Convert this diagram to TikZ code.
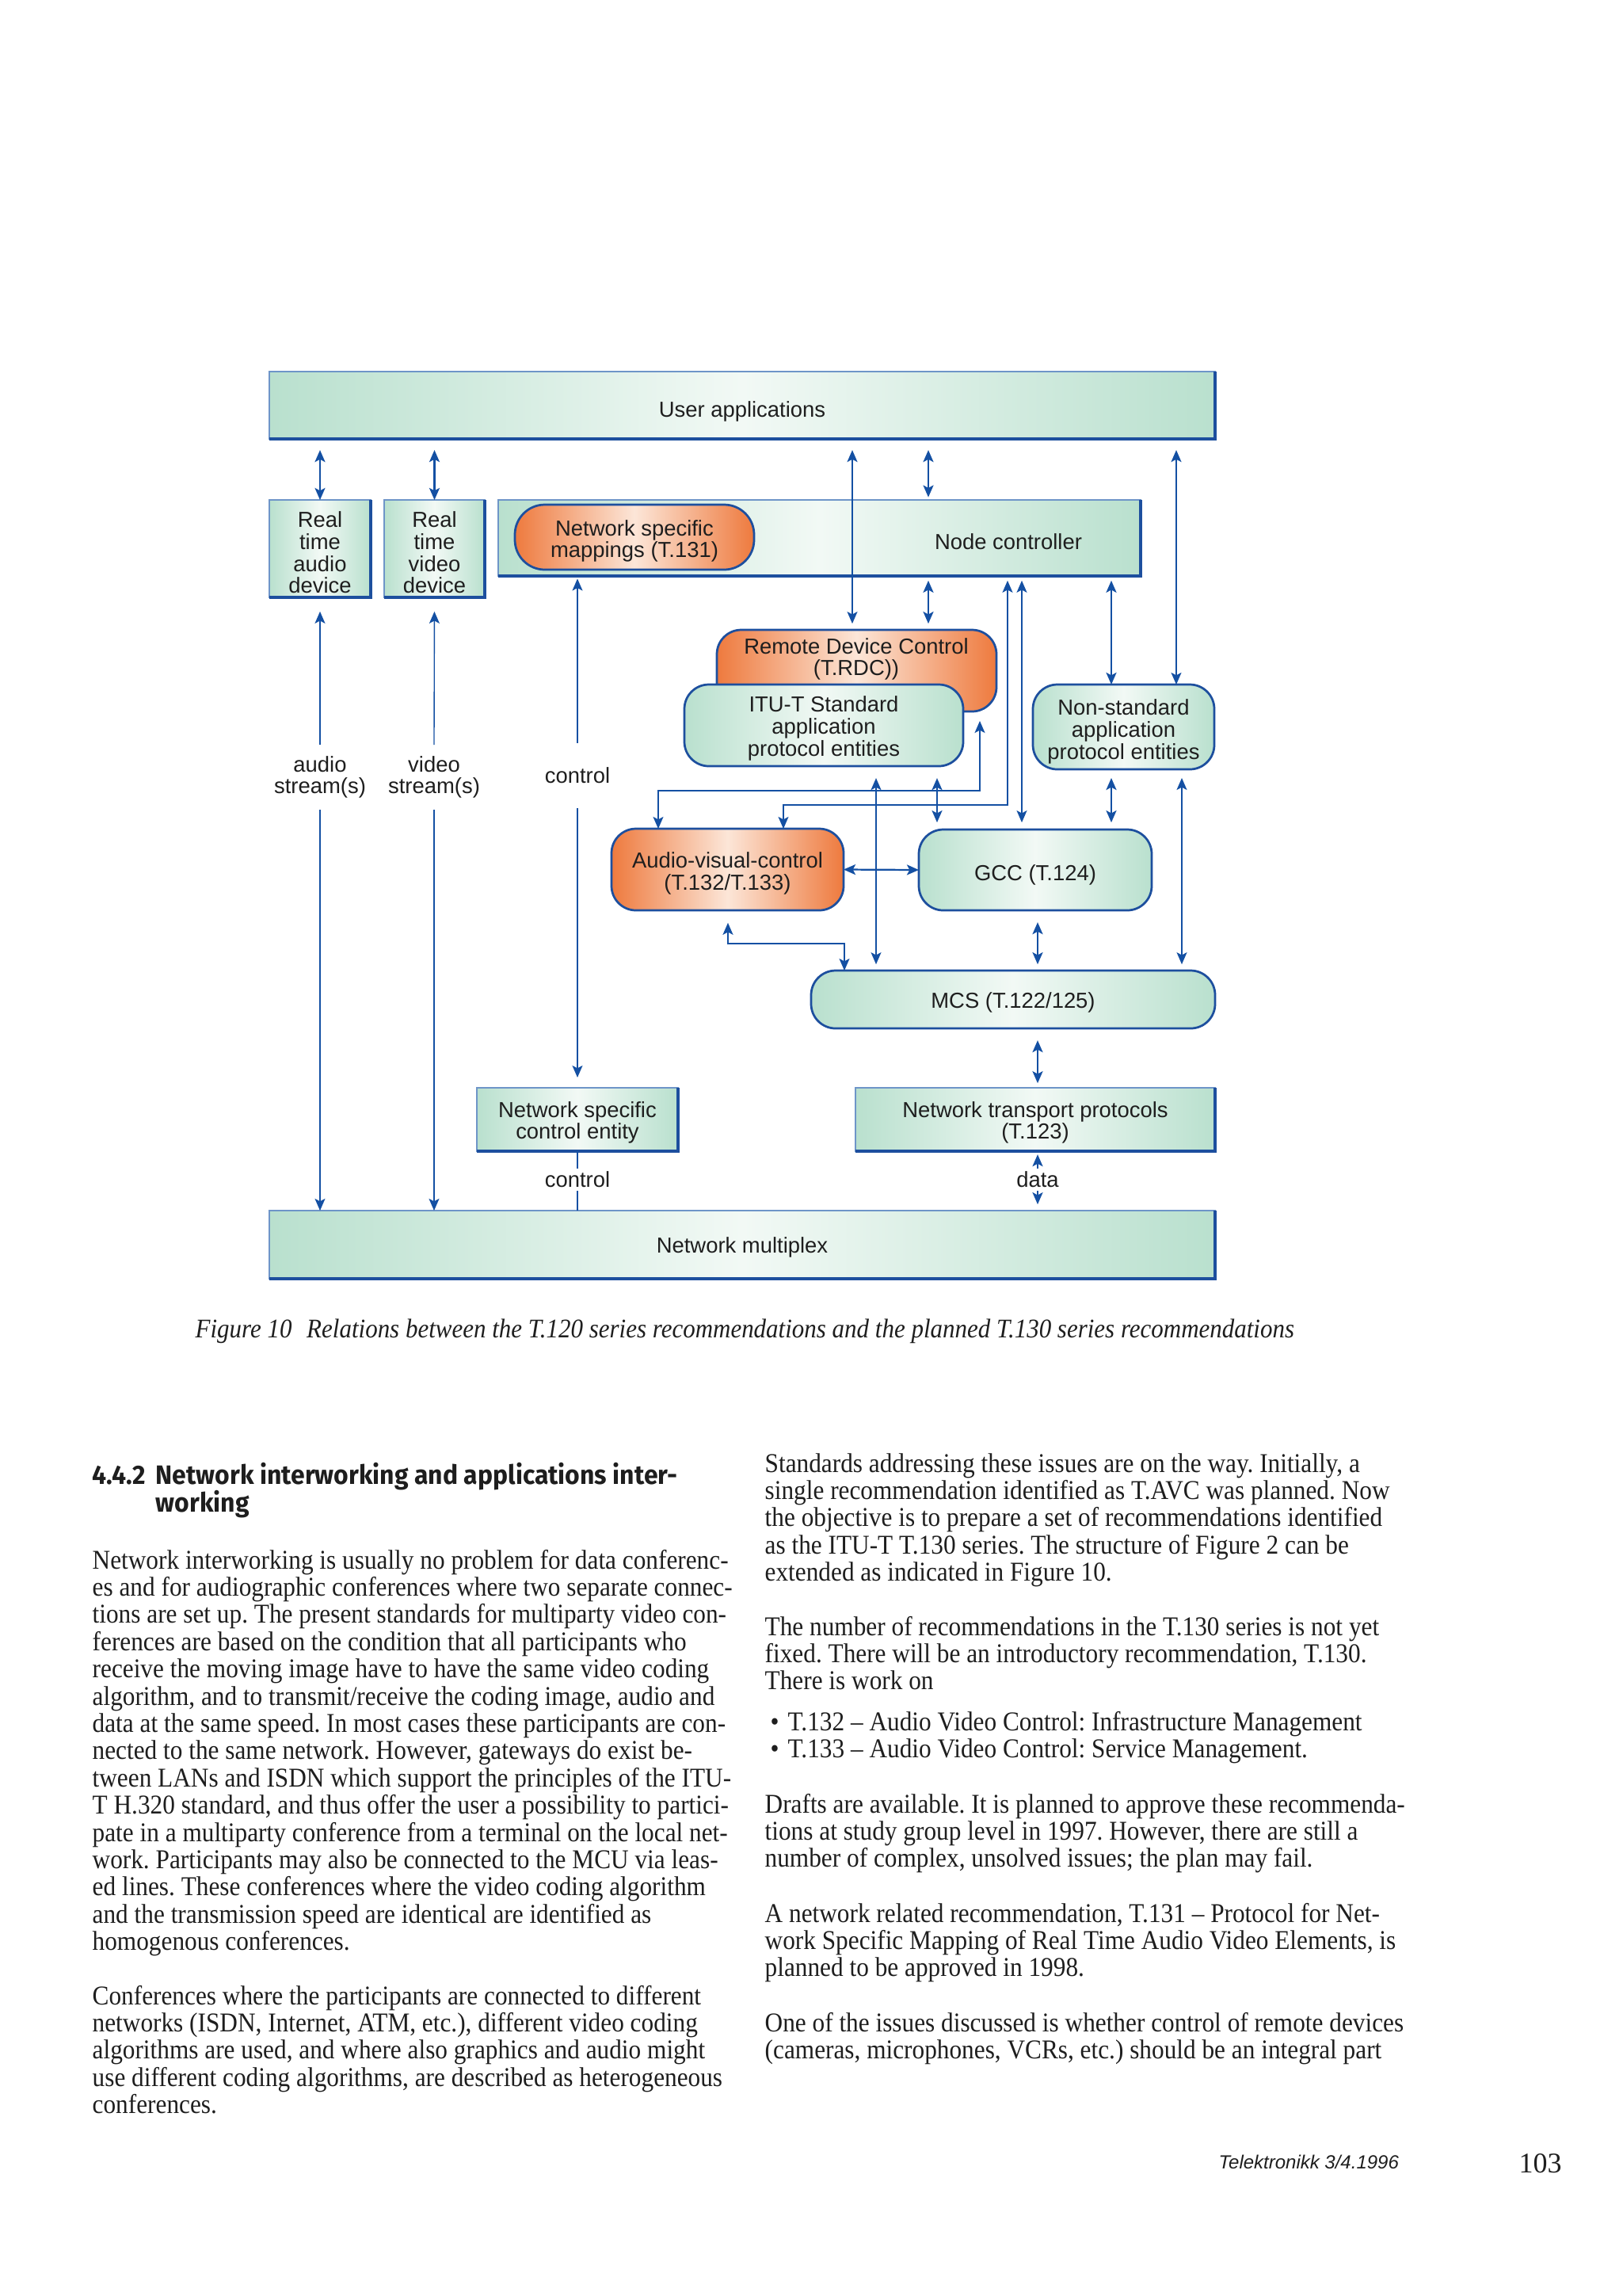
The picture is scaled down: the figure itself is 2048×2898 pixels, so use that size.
\documentclass[tikz,border=0pt]{standalone}
\usepackage{fontspec}
\setmainfont{Liberation Serif}[FakeStretch=0.913]
\newfontfamily\dfont{Liberation Sans}
\newfontfamily\hfont{Fira Sans}[FakeStretch=0.95]
\newfontfamily\pnfont{Liberation Serif}
\usetikzlibrary{arrows.meta,fit,calc}
\definecolor{mint}{HTML}{B9E0CE}
\definecolor{mintl}{HTML}{F2F9F5}
\definecolor{orng}{HTML}{EE7A3E}
\definecolor{peach}{HTML}{FCE6D8}
\definecolor{bord}{HTML}{1D4F9E}
\definecolor{bordl}{HTML}{6E95C8}
\definecolor{arr}{HTML}{1450A3}
\definecolor{ink}{HTML}{1E1E1E}
\def\pxu{0.29067pt}
\frenchspacing
\tikzset{
  ah/.tip={Stealth[length=4.4pt,width=3.8pt,inset=1pt]},
  dtxt/.style={font=\dfont\fontsize{8}{8.1}\selectfont, text=ink, align=center, inner sep=0pt},
  box/.style={inner sep=0pt, outer sep=0pt, draw=bordl, line width=0.45pt,
    left color=mint, right color=mint, middle color=mintl},
  rbox/.style={box, draw=bord, line width=0.8pt, rounded corners=9pt},
  obox/.style={rbox, left color=orng, right color=orng, middle color=peach},
  edge/.style={draw=bord, line width=0.9pt},
  thk/.style={draw=arr, line width=0.65pt},
  thn/.style={draw=arr, line width=0.4pt},
  lab/.style={dtxt, outer sep=0pt, minimum height=82*\pxu},
  slab/.style={dtxt, outer sep=0pt, minimum height=28*\pxu},
  bodyline/.style={anchor=base west, inner sep=0pt, text=ink, font=\fontsize{10}{10}\selectfont},
  headline/.style={anchor=base west, inner sep=0pt, text=ink, font=\hfont\bfseries\fontsize{9.8}{9.8}\selectfont},
}
\begin{document}
\begin{tikzpicture}[x=0.010254cm, y=-0.010254cm]
\useasboundingbox[fill=white] (0,0) rectangle (2048,2898);

% ---------- boxes ----------
\node[box, fit={(340,469) (1534,554)}] (ua) {};
\node[box, fit={(340,631) (468,754)}] (aud) {};
\node[box, fit={(485,631) (612,754)}] (vid) {};
\node[box, fit={(629,631) (1440,727)}] (nc) {};
\node[obox, rounded corners=11pt, fit={(650,637) (952,719)}] (t131) {};
\node[obox, fit={(905,795) (1258,898)}] (rdc) {};
\node[rbox, fit={(864,864) (1216,967)}] (itu) {};
\node[rbox, fit={(1304,864) (1533,971)}] (nstd) {};
\node[obox, fit={(772,1046) (1065,1149)}] (avc) {};
\node[rbox, fit={(1160,1047) (1454,1149)}] (gcc) {};
\node[rbox, fit={(1024,1225) (1534,1298)}] (mcs) {};
\node[box, fit={(602,1373) (856,1453)}] (nsce) {};
\node[box, fit={(1080,1373) (1534,1453)}] (ntp) {};
\node[box, fit={(340,1528) (1534,1614)}] (nm) {};

% darker bottom/right edges of the square boxes
\foreach \b in {ua,aud,vid,nc,nsce,ntp,nm}
  \draw[edge] (\b.south west) -- (\b.south east) -- (\b.north east);

% ---------- box texts ----------
\node[dtxt] (uatext) at ([yshift=-8*\pxu]ua.center) {User applications};
\node[dtxt] (audtext) at ([yshift=-5*\pxu]aud.center) {Real\\time\\audio\\device};
\node[dtxt] (vidtext) at ([yshift=-5*\pxu]vid.center) {Real\\time\\video\\device};
\node[dtxt] (nctext) at (1273,684) {Node controller};
\node[dtxt] (t131text) at ([yshift=-5*\pxu]t131.center) {Network specific\\mappings (T.131)};
\node[dtxt] (rdctext) at (1081,832) {Remote Device Control\\(T.RDC))};
\node[dtxt] (itutext) at ([yshift=-4*\pxu]itu.center) {ITU-T Standard\\application\\protocol entities};
\node[dtxt] (nstdtext) at ([yshift=-6*\pxu]nstd.center) {Non-standard\\application\\protocol entities};
\node[dtxt] (avctext) at ([yshift=-5*\pxu]avc.center) {Audio-visual-control\\(T.132/T.133)};
\node[dtxt] (gcctext) at ([yshift=-6*\pxu]gcc.center) {GCC (T.124)};
\node[dtxt] (mcstext) at ([yshift=-4*\pxu]mcs.center) {MCS (T.122/125)};
\node[dtxt] (nscetext) at ([yshift=-4*\pxu]nsce.center) {Network specific\\control entity};
\node[dtxt] (ntptext) at ([yshift=-4*\pxu]ntp.center) {Network transport protocols\\(T.123)};
\node[dtxt] (nmtext) at ([yshift=-3*\pxu]nm.center) {Network multiplex};

% ---------- labels on long lines ----------
\node[lab] (laud) at (404,981) {audio\\stream(s)};
\node[lab] (lvid) at (548,981) {video\\stream(s)};
\node[lab] (lctl) at (729,979) {control};
\node[slab] (lctl2) at (729,1489) {control};
\node[slab] (ldata) at (1310,1489) {data};

% ---------- column coordinates ----------
\coordinate (c1076) at (1076,0);
\coordinate (c1172) at (1172,0);
\coordinate (c1485) at (1485,0);
\coordinate (c1403) at (1403,0);
\coordinate (c1290) at (1290,0);
\coordinate (c1106) at (1106,0);
\coordinate (c1183) at (1183,0);
\coordinate (c1492) at (1492,0);
\coordinate (c1310) at (1310,0);
\coordinate (k8a) at (1272,1016);
\coordinate (k8b) at (989,1016);
\coordinate (k11a) at (1237,998);
\coordinate (k11b) at (831,998);
\coordinate (k17a) at (919,1191);
\coordinate (k17b) at (1066,1191);

% ---------- connectors ----------
\draw[thk,ah-ah,shorten <=4.1pt] (ua.south -| aud.north) -- (aud.north);
\draw[thk,ah-ah,shorten <=4.1pt] (ua.south -| vid.north) -- (vid.north);
\draw[thn,ah-ah,shorten <=4.1pt,shorten >=2.3pt] (ua.south -| c1076) -- (rdc.north -| c1076);
\draw[thk,ah-ah,shorten <=4.1pt,shorten >=1pt] (ua.south -| c1172) -- (nc.north -| c1172);
\draw[thk,ah-ah,shorten <=1.7pt,shorten >=2.3pt] (nc.south -| c1172) -- (rdc.north -| c1172);
\draw[thn,ah-ah,shorten <=4.1pt] (ua.south -| c1485) -- (nstd.north -| c1485);
\draw[thk,ah-ah,shorten <=1.7pt] (nc.south -| c1403) -- (nstd.north -| c1403);
\draw[thn,ah-ah,shorten <=1.7pt] (nc.south -| k8a) -- (k8a) -- (k8b) -- (avc.north -| k8b);
\draw[thn,ah-ah,shorten <=1.7pt,shorten >=2.6pt] (nc.south -| c1290) -- (gcc.north -| c1290);
\draw[thn,ah-,shorten <=1pt] (nc.south -| lctl) -- (lctl.north);
\draw[thn,-ah,shorten >=3.8pt] (lctl.south) -- (nsce.north);
\draw[thn,ah-ah,shorten <=3.5pt] (rdc.south -| k11a) -- (k11a) -- (k11b) -- (avc.north -| k11b);
\draw[thn,ah-ah,shorten <=4.4pt,shorten >=2.3pt] (itu.south -| c1106) -- (mcs.north -| c1106);
\draw[thk,ah-ah,shorten <=4.4pt,shorten >=2.6pt] (itu.south -| c1183) -- (gcc.north -| c1183);
\draw[thk,ah-ah,shorten <=3.2pt,shorten >=2.6pt] (nstd.south -| c1403) -- (gcc.north -| c1403);
\draw[thn,ah-ah,shorten <=3.2pt,shorten >=2.3pt] (nstd.south -| c1492) -- (mcs.north -| c1492);
\draw[thk,ah-ah] (avc.east) -- (gcc.west);
\draw[thn,ah-ah,shorten <=4.6pt] (avc.south -| k17a) -- (k17a) -- (k17b) -- (mcs.north -| k17b);
\draw[thk,ah-ah,shorten <=4.4pt,shorten >=2.3pt] (gcc.south -| c1310) -- (mcs.north -| c1310);
\draw[thk,ah-ah,shorten <=4.4pt,shorten >=1.7pt] (mcs.south -| c1310) -- (ntp.north -| c1310);
\draw[thk,ah-,shorten <=1.2pt] (ntp.south -| ldata) -- (ldata.north);
\draw[thk,-ah,shorten >=2.3pt] (ldata.south) -- (nm.north -| ldata);
\draw[thn] (nsce.south) -- (lctl2.north);
\draw[thn] (lctl2.south) -- (nm.north -| lctl2);
\draw[thn,ah-,shorten <=5.2pt] (aud.south) -- (laud.north);
\draw[thn,-ah] (laud.south) -- (nm.north -| laud);
\draw[thn,ah-,shorten <=5.2pt] (vid.south) -- (lvid.north);
\draw[thn,-ah] (lvid.south) -- (nm.north -| lvid);

% ---------- caption ----------
\node[bodyline, font=\fontsize{9.9}{10}\selectfont\itshape] (cap) at (246,1688)
  {Figure 10\hspace{0.55em}Relations between the T.120 series recommendations and the planned T.130 series recommendations};

% ---------- heading ----------
\node[headline] (hnum) at (116,1873) {4.4.2};
\node[headline] (h1) at (196,1873) {Network interworking and applications inter-};
\node[headline] (h2) at (196,1908) {working};

% ---------- left column ----------
\foreach \t [count=\i from 0] in {
  {Network interworking is usually no problem for data conferenc-},
  {es and for audiographic conferences where two separate connec-},
  {tions are set up. The present standards for multiparty video con-},
  {ferences are based on the condition that all participants who},
  {receive the moving image have to have the same video coding},
  {algorithm, and to transmit/receive the coding image, audio and},
  {data at the same speed. In most cases these participants are con-},
  {nected to the same network. However, gateways do exist be-},
  {tween LANs and ISDN which support the principles of the ITU-},
  {T H.320 standard, and thus offer the user a possibility to partici-},
  {pate in a multiparty conference from a terminal on the local net-},
  {work. Participants may also be connected to the MCU via leas-},
  {ed lines. These conferences where the video coding algorithm},
  {and the transmission speed are identical are identified as},
  {homogenous conferences.}}
  \node[bodyline] (la\i) at (116,1980+\i*34.4) {\t};

\foreach \t [count=\i from 0] in {
  {Conferences where the participants are connected to different},
  {networks (ISDN, Internet, ATM, etc.), different video coding},
  {algorithms are used, and where also graphics and audio might},
  {use different coding algorithms, are described as heterogeneous},
  {conferences.}}
  \node[bodyline] (lb\i) at (116,2530+\i*34.4) {\t};

% ---------- right column ----------
\foreach \t [count=\i from 0] in {
  {Standards addressing these issues are on the way. Initially, a},
  {single recommendation identified as T.AVC was planned. Now},
  {the objective is to prepare a set of recommendations identified},
  {as the ITU-T T.130 series. The structure of Figure 2 can be},
  {extended as indicated in Figure 10.}}
  \node[bodyline] (ra\i) at (965,1858+\i*34.4) {\t};

\foreach \t [count=\i from 0] in {
  {The number of recommendations in the T.130 series is not yet},
  {fixed. There will be an introductory recommendation, T.130.},
  {There is work on}}
  \node[bodyline] (rb\i) at (965,2064+\i*34.4) {\t};

\foreach \t [count=\i from 0] in {
  {T.132 – Audio Video Control: Infrastructure Management},
  {T.133 – Audio Video Control: Service Management.}}
  {\node[bodyline] (rbul\i) at (972,2184+\i*34.4) {•};
   \node[bodyline] (rc\i) at (994,2184+\i*34.4) {\t};}

\foreach \t [count=\i from 0] in {
  {Drafts are available. It is planned to approve these recommenda-},
  {tions at study group level in 1997. However, there are still a},
  {number of complex, unsolved issues; the plan may fail.}}
  \node[bodyline] (rd\i) at (965,2288+\i*34.4) {\t};

\foreach \t [count=\i from 0] in {
  {A network related recommendation, T.131 – Protocol for Net-},
  {work Specific Mapping of Real Time Audio Video Elements, is},
  {planned to be approved in 1998.}}
  \node[bodyline] (re\i) at (965,2426+\i*34.4) {\t};

\foreach \t [count=\i from 0] in {
  {One of the issues discussed is whether control of remote devices},
  {(cameras, microphones, VCRs, etc.) should be an integral part}}
  \node[bodyline] (rf\i) at (965,2564+\i*34.4) {\t};

% ---------- footer ----------
\node[anchor=base west, inner sep=0pt, text=ink, font=\dfont\itshape\fontsize{7}{7}\selectfont] (jour) at (1538,2737) {Telektronikk 3/4.1996};
\node[anchor=base west, inner sep=0pt, text=ink, font=\pnfont\fontsize{10.5}{10.5}\selectfont] (pno) at (1917,2742) {103};
\end{tikzpicture}
\end{document}
